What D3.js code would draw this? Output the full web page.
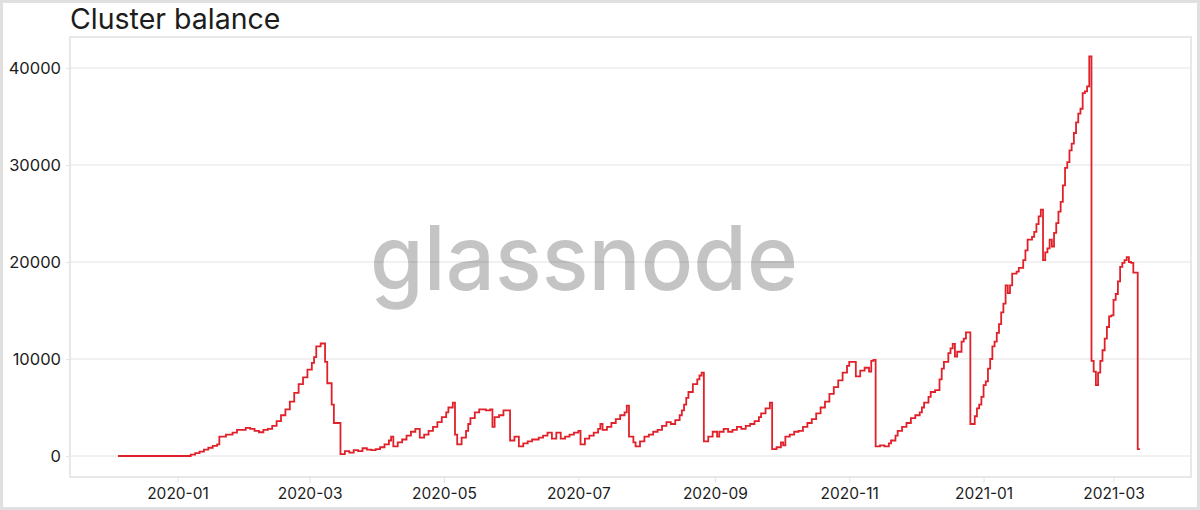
<!DOCTYPE html>
<html>
<head>
<meta charset="utf-8">
<script src="https://cdn.jsdelivr.net/npm/d3@7"></script>
<style>
  body { margin: 0; background: #fff; }
  svg { display: block; font-family: Inter, "Noto Sans", sans-serif; }
</style>
</head>
<body>
<svg id="chart"></svg>
<script>
const width = 1200;
const height = 510;

const chartTitle = "Cluster balance";
const watermark = "glassnode";
const yTicks = [0, 10000, 20000, 30000, 40000];
const xTicks = ["2020-01-01", "2020-03-01", "2020-05-01", "2020-07-01",
    "2020-09-01", "2020-11-01", "2021-01-01", "2021-03-01"];

// [date, balance], drawn as steps
const balanceSeries = [
    ["2019-12-05", 0], ["2020-01-07", 150], ["2020-01-09", 300], ["2020-01-11", 450],
    ["2020-01-13", 650], ["2020-01-15", 850], ["2020-01-17", 1050], ["2020-01-19", 1200],
    ["2020-01-20", 2000], ["2020-01-23", 2200], ["2020-01-26", 2400], ["2020-01-28", 2700],
    ["2020-02-01", 2900], ["2020-02-03", 2800], ["2020-02-05", 2600], ["2020-02-07", 2450],
    ["2020-02-09", 2700], ["2020-02-11", 2800], ["2020-02-13", 3100], ["2020-02-15", 3600],
    ["2020-02-17", 4200], ["2020-02-19", 4800], ["2020-02-21", 5600], ["2020-02-23", 6500],
    ["2020-02-25", 7400], ["2020-02-27", 8100], ["2020-02-29", 8900], ["2020-03-02", 9600],
    ["2020-03-03", 10200], ["2020-03-04", 11300], ["2020-03-06", 11600], ["2020-03-08", 9700],
    ["2020-03-09", 7500], ["2020-03-11", 5300], ["2020-03-12", 3400], ["2020-03-15", 200],
    ["2020-03-17", 500], ["2020-03-19", 350], ["2020-03-21", 600], ["2020-03-23", 500],
    ["2020-03-25", 800], ["2020-03-27", 650], ["2020-03-29", 600], ["2020-03-31", 700],
    ["2020-04-02", 900], ["2020-04-04", 1200], ["2020-04-06", 1600], ["2020-04-07", 2000],
    ["2020-04-08", 1000], ["2020-04-10", 1400], ["2020-04-12", 1700], ["2020-04-14", 2100],
    ["2020-04-16", 2500], ["2020-04-18", 2800], ["2020-04-20", 1900], ["2020-04-22", 2200],
    ["2020-04-24", 2600], ["2020-04-26", 3000], ["2020-04-28", 3500], ["2020-04-30", 4000],
    ["2020-05-02", 4500], ["2020-05-03", 5000], ["2020-05-05", 5500], ["2020-05-06", 2200],
    ["2020-05-07", 1200], ["2020-05-09", 1900], ["2020-05-11", 2600], ["2020-05-12", 3300],
    ["2020-05-13", 3900], ["2020-05-15", 4500], ["2020-05-17", 4800], ["2020-05-20", 4700],
    ["2020-05-22", 4800], ["2020-05-23", 3000], ["2020-05-24", 4000], ["2020-05-26", 4200],
    ["2020-05-28", 4700], ["2020-05-31", 1600], ["2020-06-02", 2000], ["2020-06-04", 1000],
    ["2020-06-06", 1300], ["2020-06-08", 1500], ["2020-06-10", 1700], ["2020-06-13", 1900],
    ["2020-06-15", 2100], ["2020-06-17", 2400], ["2020-06-19", 1800], ["2020-06-21", 2400],
    ["2020-06-23", 1800], ["2020-06-25", 2000], ["2020-06-27", 2200], ["2020-06-29", 2400],
    ["2020-07-01", 2600], ["2020-07-02", 1200], ["2020-07-04", 1800], ["2020-07-06", 2100],
    ["2020-07-08", 2400], ["2020-07-10", 2800], ["2020-07-11", 3300], ["2020-07-12", 2700],
    ["2020-07-14", 3000], ["2020-07-16", 3400], ["2020-07-18", 3800], ["2020-07-20", 4200],
    ["2020-07-22", 4500], ["2020-07-23", 5200], ["2020-07-24", 2000], ["2020-07-26", 1400],
    ["2020-07-27", 1000], ["2020-07-29", 1500], ["2020-07-31", 2000], ["2020-08-02", 2200],
    ["2020-08-04", 2500], ["2020-08-06", 2700], ["2020-08-08", 3100], ["2020-08-10", 3500],
    ["2020-08-12", 3300], ["2020-08-14", 3700], ["2020-08-16", 4200], ["2020-08-17", 4700],
    ["2020-08-18", 5300], ["2020-08-19", 6000], ["2020-08-20", 6600], ["2020-08-22", 7400],
    ["2020-08-24", 7900], ["2020-08-25", 8300], ["2020-08-26", 8600], ["2020-08-27", 1500],
    ["2020-08-29", 2000], ["2020-08-31", 2500], ["2020-09-02", 2000], ["2020-09-03", 2500],
    ["2020-09-05", 2800], ["2020-09-07", 2500], ["2020-09-09", 2700], ["2020-09-11", 3000],
    ["2020-09-13", 2800], ["2020-09-15", 3100], ["2020-09-17", 3300], ["2020-09-19", 3600],
    ["2020-09-21", 4000], ["2020-09-22", 4400], ["2020-09-24", 4900], ["2020-09-26", 5500],
    ["2020-09-27", 700], ["2020-09-29", 900], ["2020-10-01", 1400], ["2020-10-02", 1100],
    ["2020-10-03", 2000], ["2020-10-05", 2200], ["2020-10-07", 2500], ["2020-10-09", 2600],
    ["2020-10-11", 3000], ["2020-10-13", 3400], ["2020-10-15", 3800], ["2020-10-17", 4400],
    ["2020-10-19", 5000], ["2020-10-21", 5600], ["2020-10-23", 6400], ["2020-10-25", 7100],
    ["2020-10-27", 7800], ["2020-10-29", 8600], ["2020-10-31", 9300], ["2020-11-01", 9700],
    ["2020-11-04", 8200], ["2020-11-06", 8800], ["2020-11-08", 9100], ["2020-11-10", 8700],
    ["2020-11-11", 9800], ["2020-11-12", 9900], ["2020-11-13", 1000], ["2020-11-15", 1100],
    ["2020-11-17", 1000], ["2020-11-19", 1300], ["2020-11-20", 1600], ["2020-11-22", 2100],
    ["2020-11-23", 2600], ["2020-11-25", 3000], ["2020-11-27", 3400], ["2020-11-29", 3900],
    ["2020-12-01", 4200], ["2020-12-03", 4500], ["2020-12-04", 5000], ["2020-12-05", 5500],
    ["2020-12-07", 6100], ["2020-12-08", 6600], ["2020-12-10", 6800], ["2020-12-12", 7900],
    ["2020-12-13", 9000], ["2020-12-14", 9700], ["2020-12-16", 10600], ["2020-12-17", 11100],
    ["2020-12-18", 11550], ["2020-12-19", 10250], ["2020-12-20", 10750], ["2020-12-22", 11800],
    ["2020-12-23", 12100], ["2020-12-24", 12750], ["2020-12-26", 3300], ["2020-12-28", 4100],
    ["2020-12-29", 4900], ["2020-12-30", 5300], ["2020-12-31", 6100], ["2021-01-01", 7300],
    ["2021-01-02", 7700], ["2021-01-03", 9000], ["2021-01-04", 10000], ["2021-01-05", 11300],
    ["2021-01-06", 11800], ["2021-01-07", 12700], ["2021-01-08", 13600], ["2021-01-09", 14800],
    ["2021-01-10", 15700], ["2021-01-11", 17600], ["2021-01-12", 16800], ["2021-01-13", 17600],
    ["2021-01-14", 18800], ["2021-01-16", 19000], ["2021-01-17", 19400], ["2021-01-19", 20200],
    ["2021-01-20", 21200], ["2021-01-21", 22300], ["2021-01-23", 22600], ["2021-01-24", 23100],
    ["2021-01-25", 23900], ["2021-01-26", 24700], ["2021-01-27", 25400], ["2021-01-28", 20200],
    ["2021-01-29", 21000], ["2021-01-30", 21400], ["2021-01-31", 22300], ["2021-02-01", 21600],
    ["2021-02-02", 23000], ["2021-02-03", 24000], ["2021-02-04", 25200], ["2021-02-05", 26200],
    ["2021-02-06", 27900], ["2021-02-07", 29700], ["2021-02-08", 30300], ["2021-02-09", 31500],
    ["2021-02-10", 32200], ["2021-02-11", 33300], ["2021-02-12", 34400], ["2021-02-13", 35300],
    ["2021-02-14", 35800], ["2021-02-15", 37400], ["2021-02-16", 37600], ["2021-02-17", 38100],
    ["2021-02-18", 41200], ["2021-02-19", 9800], ["2021-02-20", 8700], ["2021-02-21", 7300],
    ["2021-02-22", 8600], ["2021-02-23", 9800], ["2021-02-24", 10900], ["2021-02-25", 12100],
    ["2021-02-26", 13300], ["2021-02-27", 14400], ["2021-02-28", 14500], ["2021-03-01", 16100],
    ["2021-03-02", 16700], ["2021-03-03", 18000], ["2021-03-04", 19500], ["2021-03-05", 19900],
    ["2021-03-06", 20200], ["2021-03-07", 20500], ["2021-03-08", 20000], ["2021-03-09", 19900],
    ["2021-03-10", 18900], ["2021-03-12", 700], ["2021-03-13", 700]
];

const parseDate = d3.utcParse("%Y-%m-%d");
const data = balanceSeries.map(([d, v]) => ({ date: parseDate(d), value: v }));

const plot = { left: 70, right: 1191, top: 37, bottom: 477 };

const svg = d3.select("#chart")
    .attr("width", width)
    .attr("height", height);

// outer frame
svg.append("rect")
    .attr("x", 1.5).attr("y", 1.5)
    .attr("width", width - 3).attr("height", height - 3)
    .attr("fill", "#fff")
    .attr("stroke", "#e0e0e0")
    .attr("stroke-width", 3);

// time scale anchored on the tick positions, then widened to the plot box
const x = d3.scaleUtc()
    .domain([parseDate("2020-01-01"), parseDate("2021-03-01")])
    .range([177.5, 1113.5]);
x.domain([x.invert(plot.left), x.invert(plot.right)]).range([plot.left, plot.right]);

const y = d3.scaleLinear()
    .domain([0, 40000])
    .range([456, 68]);

svg.append("text")
    .attr("x", 70)
    .attr("y", 29)
    .attr("font-size", 28.5)
    .attr("fill", "#1c1c1c")
    .text(chartTitle);

// plot box
svg.append("rect")
    .attr("x", plot.left).attr("y", plot.top)
    .attr("width", plot.right - plot.left)
    .attr("height", plot.bottom - plot.top)
    .attr("fill", "none")
    .attr("stroke", "#e8e8e8")
    .attr("stroke-width", 2);

// y axis with gridlines
const yAxis = svg.append("g")
    .attr("transform", `translate(${plot.left},0)`)
    .call(d3.axisLeft(y)
        .tickValues(yTicks)
        .tickSize(4)
        .tickPadding(5)
        .tickFormat(d3.format("d")));
yAxis.select(".domain").remove();
yAxis.selectAll(".tick line").attr("stroke", "#e4e4e4");
yAxis.selectAll(".tick text")
    .attr("font-family", "Inter, 'Noto Sans', sans-serif")
    .attr("font-size", 16.5)
    .attr("fill", "#1c1c1c");

svg.append("g")
    .selectAll("line")
    .data(yTicks)
    .enter()
    .append("line")
    .attr("x1", plot.left)
    .attr("x2", plot.right)
    .attr("y1", d => y(d))
    .attr("y2", d => y(d))
    .attr("stroke", "#e4e4e4")
    .attr("stroke-width", 1.2);

// x axis
const xAxis = svg.append("g")
    .attr("transform", `translate(0,${plot.bottom})`)
    .call(d3.axisBottom(x)
        .tickValues(xTicks.map(parseDate))
        .tickSize(6)
        .tickPadding(5)
        .tickFormat(d3.utcFormat("%Y-%m")));
xAxis.select(".domain").remove();
xAxis.selectAll(".tick line").attr("stroke", "#e4e4e4");
xAxis.selectAll(".tick text")
    .attr("font-family", "Inter, 'Noto Sans', sans-serif")
    .attr("font-size", 15.5)
    .attr("fill", "#1c1c1c");

const line = d3.line()
    .x(d => x(d.date))
    .y(d => y(d.value))
    .curve(d3.curveStepAfter);

svg.append("path")
    .datum(data)
    .attr("d", line)
    .attr("fill", "none")
    .attr("stroke", "#e1212a")
    .attr("stroke-width", 1.8)
    .attr("stroke-linejoin", "miter");

svg.append("text")
    .attr("x", 584)
    .attr("y", 290)
    .attr("text-anchor", "middle")
    .attr("font-size", 90)
    .attr("font-weight", 500)
    .attr("textLength", 428)
    .attr("lengthAdjust", "spacingAndGlyphs")
    .attr("fill", "#000")
    .attr("fill-opacity", 0.23)
    .text(watermark);
</script>
</body>
</html>
